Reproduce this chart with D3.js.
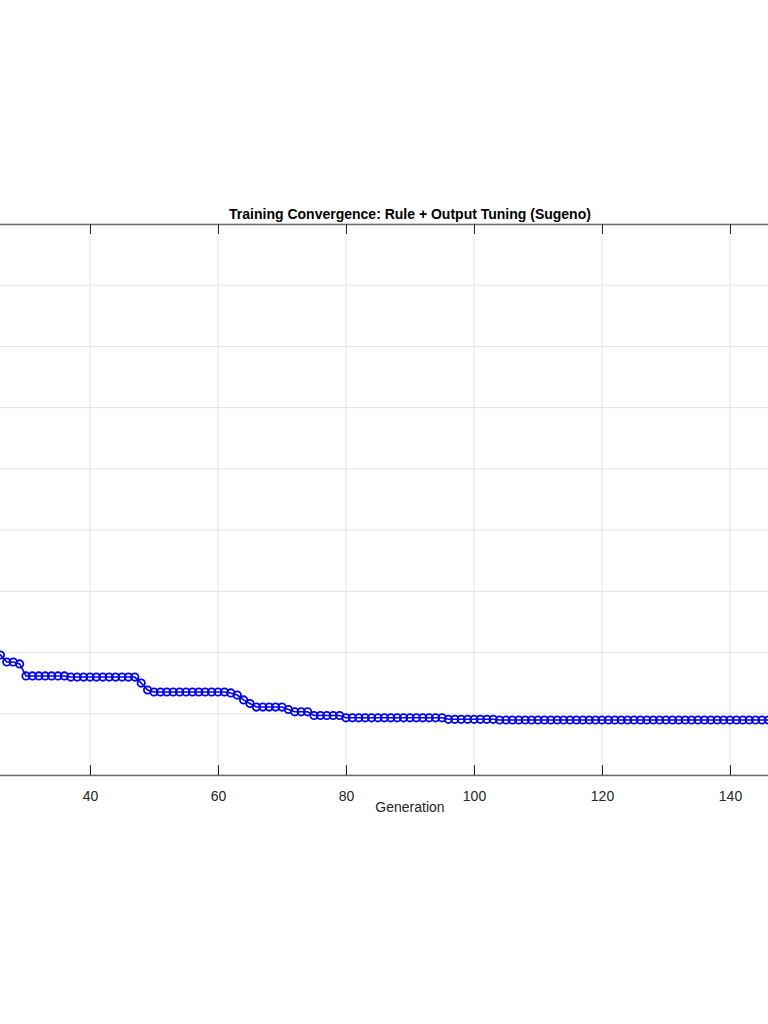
<!DOCTYPE html>
<html>
<head>
<meta charset="utf-8">
<script src="https://cdn.jsdelivr.net/npm/d3@7"></script>
<style>
  body { margin: 0; background: #fff; }
  text { font-family: "Liberation Sans", Arial, sans-serif; }
</style>
</head>
<body>
<div id="chart"></div>
<script>
// Best fitness per generation
var fitness = [
  0.312, 0.268, 0.241, 0.219, 0.205, 0.188, 0.176, 0.165, 0.158, 0.149,
  0.143, 0.136, 0.131, 0.127, 0.122, 0.118, 0.115, 0.112, 0.110, 0.108,
  0.106, 0.105, 0.103, 0.102, 0.101,
  0.0980, 0.0923, 0.0923, 0.0907,
  0.0809, 0.0809, 0.0809, 0.0809, 0.0809, 0.0809, 0.0809,
  0.0800, 0.0800, 0.0800, 0.0800, 0.0800, 0.0800, 0.0800, 0.0800, 0.0800, 0.0800, 0.0800,
  0.0751, 0.0694,
  0.0678, 0.0678, 0.0678, 0.0678, 0.0678, 0.0678, 0.0678, 0.0678, 0.0678, 0.0678, 0.0678, 0.0678,
  0.0670, 0.0653, 0.0613, 0.0584,
  0.0555, 0.0555, 0.0555, 0.0555, 0.0555,
  0.0535,
  0.0516, 0.0516, 0.0516,
  0.0486, 0.0486, 0.0486, 0.0486, 0.0486,
  0.0467, 0.0467, 0.0467, 0.0467, 0.0467, 0.0467, 0.0467, 0.0467,
  0.0467, 0.0467, 0.0467, 0.0467, 0.0467, 0.0467, 0.0467, 0.0467,
  0.0455, 0.0455, 0.0455, 0.0455, 0.0455, 0.0455, 0.0455, 0.0455,
  0.0449, 0.0449, 0.0449, 0.0449, 0.0449, 0.0449, 0.0449, 0.0449, 0.0449, 0.0449,
  0.0449, 0.0449, 0.0449, 0.0449, 0.0449, 0.0449, 0.0449, 0.0449, 0.0449, 0.0449,
  0.0449, 0.0449, 0.0449, 0.0449, 0.0449, 0.0449, 0.0449, 0.0449, 0.0449, 0.0449,
  0.0449, 0.0449, 0.0449, 0.0449, 0.0449, 0.0449, 0.0449, 0.0449, 0.0449, 0.0449,
  0.0449, 0.0449, 0.0449, 0.0449, 0.0449, 0.0449, 0.0449
];
var generations = fitness.map(function(d, i) { return i + 1; });

var xTicks = [0, 20, 40, 60, 80, 100, 120, 140, 160, 180];
var yTicks = [0, 0.05, 0.1, 0.15, 0.2, 0.25, 0.3, 0.35, 0.4, 0.45];

var titleText = "Training Convergence: Rule + Output Tuning (Sugeno)";
var xLabelText = "Generation";

// svg area
var svgWidth = 768;
var svgHeight = 1024;

// the figure is wider than the page, so the plot box runs off both sides
var margin = { top: 224, left: -166 };
var width = 1152;
var height = 551;

var svg = d3.select("#chart")
  .append("svg")
  .attr("width", svgWidth)
  .attr("height", svgHeight)
  .style("display", "block");

svg.append("rect")
  .attr("width", svgWidth)
  .attr("height", svgHeight)
  .attr("fill", "#fff");

var chartGroup = svg.append("g")
  .attr("transform", `translate(${margin.left}, ${margin.top})`);

// scales
var xScale = d3.scaleLinear().domain([0, 180]).range([0, width]);
var yScale = d3.scaleLinear().domain([0, 0.45]).range([height, 0]);

// grid lines
chartGroup.append("g")
  .selectAll("line")
  .data(xTicks)
  .enter()
  .append("line")
  .attr("x1", d => xScale(d))
  .attr("x2", d => xScale(d))
  .attr("y1", 0)
  .attr("y2", height)
  .attr("stroke", "#e3e3e3")
  .attr("stroke-width", 1);

chartGroup.append("g")
  .selectAll("line")
  .data(yTicks)
  .enter()
  .append("line")
  .attr("x1", 0)
  .attr("x2", width)
  .attr("y1", d => yScale(d))
  .attr("y2", d => yScale(d))
  .attr("stroke", "#e3e3e3")
  .attr("stroke-width", 1);

// only label the x ticks that land on the page (the rest are cropped in the reference)
function xLabel(d) {
  var px = margin.left + xScale(d);
  return (px > 10 && px < svgWidth - 10) ? d : "";
}

// axes, ticks pointing inwards like matlab
var bottomAxis = d3.axisBottom(xScale).tickValues(xTicks).tickFormat(xLabel)
  .tickSizeInner(-10).tickSizeOuter(0).tickPadding(16);
var topAxis = d3.axisTop(xScale).tickValues(xTicks).tickSizeInner(-10).tickSizeOuter(0).tickFormat("");
var leftAxis = d3.axisLeft(yScale).tickValues(yTicks).tickSizeInner(-10).tickSizeOuter(0).tickFormat("");
var rightAxis = d3.axisRight(yScale).tickValues(yTicks).tickSizeInner(-10).tickSizeOuter(0).tickFormat("");

var axes = [
  chartGroup.append("g").attr("transform", `translate(0, ${height})`).call(bottomAxis),
  chartGroup.append("g").call(topAxis),
  chartGroup.append("g").call(leftAxis),
  chartGroup.append("g").attr("transform", `translate(${width}, 0)`).call(rightAxis)
];

axes.forEach(function(a) {
  a.select(".domain").attr("stroke", "#6e6e6e").attr("stroke-width", 1.3);
  a.selectAll(".tick line").attr("stroke", "#262626").attr("stroke-width", 1);
  a.selectAll(".tick text")
    .attr("fill", "#262626")
    .attr("font-size", "14px")
    .attr("font-family", "'Liberation Sans', Arial, sans-serif");
});

// convergence line
var line = d3.line()
  .x((d, i) => xScale(generations[i]))
  .y(d => yScale(d));

chartGroup.append("path")
  .datum(fitness)
  .attr("d", line)
  .attr("fill", "none")
  .attr("stroke", "#0000ff")
  .attr("stroke-width", 1.6);

// circle markers
chartGroup.selectAll("circle.marker")
  .data(fitness)
  .enter()
  .append("circle")
  .attr("class", "marker")
  .attr("cx", (d, i) => xScale(generations[i]))
  .attr("cy", d => yScale(d))
  .attr("r", 3.7)
  .attr("fill", "none")
  .attr("stroke", "#0000ff")
  .attr("stroke-width", 1.8);

// title
chartGroup.append("text")
  .attr("x", width / 2)
  .attr("y", -5)
  .attr("text-anchor", "middle")
  .attr("font-size", "14px")
  .attr("font-weight", "bold")
  .attr("fill", "#000")
  .text(titleText);

// x label
chartGroup.append("text")
  .attr("x", width / 2)
  .attr("y", height + 37)
  .attr("text-anchor", "middle")
  .attr("font-size", "14px")
  .attr("fill", "#262626")
  .text(xLabelText);
</script>
</body>
</html>
